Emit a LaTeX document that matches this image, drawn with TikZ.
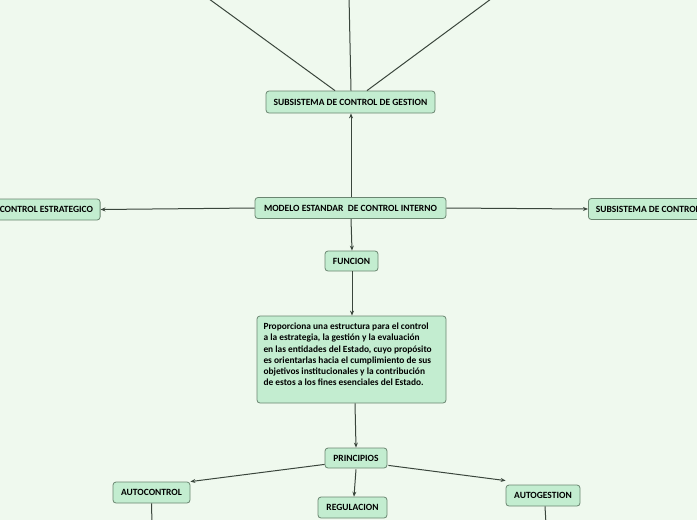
\documentclass[tikz,border=0pt]{standalone}
\usepackage{fontspec}
\setmainfont{Carlito}
\usetikzlibrary{arrows.meta}

\definecolor{fondo}{HTML}{EFF9EE}
\definecolor{caja}{HTML}{C3EDD0}
\definecolor{borde}{HTML}{6A8670}
\definecolor{linea}{HTML}{3A463C}

\begin{document}
\begin{tikzpicture}[x=1pt,y=-1pt,
	caja/.style={draw=borde,fill=caja,rounded corners=3pt,line width=0.8pt,
		font=\bfseries\fontsize{9.5}{11}\selectfont,minimum height=21pt,inner sep=0pt},
	enlace/.style={draw=linea,line width=1pt},
	flecha/.style={enlace,-{Stealth[length=5pt,width=4pt]}}]

	\fill[fondo] (0,0) rectangle (697,520);
	\useasboundingbox (0,0) rectangle (697,520);
	\clip (0,0) rectangle (697,520);

	% nodos
	\node[caja,minimum width=169pt,minimum height=22pt] (gestion) at (350.5,102) {SUBSISTEMA DE CONTROL DE GESTION};
	\node[caja,minimum width=191pt] (meci) at (350.5,208) {MODELO ESTANDAR\ \ DE CONTROL INTERNO};
	\node[caja,anchor=east,inner xsep=7pt] (estrategico) at (100.5,209.5) {SUBSISTEMA DE CONTROL ESTRATEGICO};
	\node[caja,anchor=west,inner xsep=7.5pt] (evaluacion) at (588,209) {SUBSISTEMA DE CONTROL DE EVALUACION};
	\node[caja,minimum width=53pt,minimum height=20pt] (funcion) at (351.5,261) {FUNCION};
	\node[caja,minimum width=189pt,minimum height=87pt,font=\bfseries\fontsize{9.4}{11.2}\selectfont] (proposito) at (351.5,359.5)
		{\parbox[c][73pt][t]{176pt}{\raggedright Proporciona una estructura para el control\\
		a la estrategia, la gestión y la evaluación\\
		en las entidades del Estado, cuyo propósito\\
		es orientarlas hacia el cumplimiento de sus\\
		objetivos institucionales y la contribución\\
		de estos a los fines esenciales del Estado.}};
	\node[caja,minimum width=62pt,minimum height=20pt] (principios) at (356,458) {PRINCIPIOS};
	\node[caja,minimum width=77pt] (autocontrol) at (151.5,492.5) {AUTOCONTROL};
	\node[caja,minimum width=69pt] (regulacion) at (352.5,507.5) {REGULACION};
	\node[caja,minimum width=74pt] (autogestion) at (543,495.5) {AUTOGESTION};

	% extremos fuera del recuadro
	\coordinate (g1) at (205,-4);
	\coordinate (g2) at (349,-4);
	\coordinate (g3) at (495,-4);
	\coordinate (a1) at (152,524);
	\coordinate (a2) at (546,524);

	% conectores
	\draw[enlace] (gestion.north -| 335,0) -- (g1);
	\draw[enlace] (gestion.north -| 351,0) -- (g2);
	\draw[enlace] (gestion.north -| 367,0) -- (g3);
	\draw[flecha] (meci.north -| 351,0) -- (gestion.south -| 351,0);
	\draw[flecha] (meci.west) -- (estrategico.east);
	\draw[flecha] (meci.east) -- (evaluacion.west);
	\draw[flecha] (meci.south -| 351,0) -- (funcion.north -| 352,0);
	\draw[flecha] (funcion.south -| 352,0) -- (proposito.north -| 352,0);
	\draw[flecha] (proposito.south -| 355,0) -- (principios.north);
	\draw[flecha] (principios.south west) ++(0,-4) -- (autocontrol.north east);
	\draw[flecha] (principios.south) ++(0,1) -- (regulacion.north -| 354,0);
	\draw[flecha] (principios.south east) ++(1,-3) -- ([yshift=4pt]autogestion.north west);
	\draw[enlace] (autocontrol.south) -- (a1);
	\draw[enlace] (autogestion.south -| 545,0) -- (a2);

\end{tikzpicture}
\end{document}
